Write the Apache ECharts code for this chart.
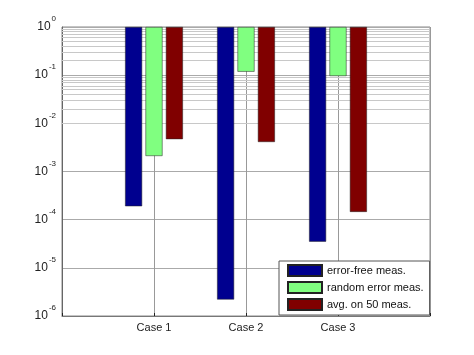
<!DOCTYPE html>
<html>
<head>
<meta charset="utf-8">
<script src="https://cdn.jsdelivr.net/npm/echarts@6/dist/echarts.min.js"></script>
<style>
  html, body { margin: 0; padding: 0; background: #fff; }
  #chart { width: 474px; height: 355px; }
</style>
</head>
<body>
<div id="chart"></div>
<script>
// data
var categories = ['Case 1', 'Case 2', 'Case 3'];
var errorFree = [1.9e-4, 2.2e-6, 3.5e-5];
var randomErr = [2.1e-3, 0.118, 0.096];
var avg50 = [4.7e-3, 4.1e-3, 1.45e-4];

var font = 'Liberation Sans, Arial, sans-serif';

// matlab style x limits: one empty slot each side
var axisCats = [''].concat(categories, ['']);
function pad(arr) { return [null].concat(arr, [null]); }

// minor log grid lines (2..9 x 10^e)
var minorLines = [];
for (var e = -6; e < 0; e++) {
    for (var k = 2; k <= 9; k++) {
        minorLines.push({ yAxis: k * Math.pow(10, e) });
    }
}

var chart = echarts.init(document.getElementById('chart'));
var barStyle = function(c) {
    return { color: c, borderColor: '#222', borderWidth: 0.5 };
};
var option = {
    animation: false,
    grid: {
        left: 62, right: 44, top: 27, bottom: 39,
        show: true, borderColor: '#888', borderWidth: 1
    },
    legend: {
        data: ['error-free meas.', 'random error meas.', 'avg. on 50 meas.'],
        orient: 'vertical',
        left: 279, top: 261,
        padding: [3, 6, 4, 8],
        itemGap: 4,
        itemWidth: 34, itemHeight: 11,
        icon: 'rect',
        backgroundColor: '#fff',
        borderColor: '#555', borderWidth: 1,
        borderRadius: 0,
        textStyle: { fontFamily: font, fontSize: 11, color: '#111' }
    },
    xAxis: {
        type: 'category',
        data: axisCats,
        boundaryGap: false,
        axisLine: { lineStyle: { color: '#777' } },
        axisTick: { inside: true, length: 3, lineStyle: { color: '#222' } },
        axisLabel: { fontFamily: font, fontSize: 11, color: '#222', margin: 6, interval: 0 },
        splitLine: { show: true, lineStyle: { color: '#999', width: 1 } }
    },
    yAxis: {
        type: 'log',
        logBase: 10,
        min: 1e-6, max: 1,
        splitNumber: 6,
        axisLine: { show: true, lineStyle: { color: '#666' } },
        axisTick: { inside: true, length: 3, lineStyle: { color: '#222' } },
        splitLine: { show: true, lineStyle: { color: '#aaa' } },
        axisLabel: {
            margin: 6,
            formatter: function(v) {
                var ex = Math.round(Math.log10(v));
                return '{b|10}{s|' + ex + '}';
            },
            rich: {
                b: { fontFamily: font, fontSize: 12, color: '#222', lineHeight: 12 },
                s: { fontFamily: font, fontSize: 8, color: '#222', lineHeight: 8, padding: [0, 0, 16, 1] }
            }
        }
    },
    series: [
        {
            type: 'line', data: pad([null, null, null]), z: 1,
            silent: true, showSymbol: false,
            markLine: {
                z: 1,
                silent: true, symbol: 'none', label: { show: false },
                lineStyle: { color: '#c8c8c8', type: 'solid', width: 1 },
                data: minorLines
            }
        },
        { name: 'error-free meas.', type: 'bar', z: 3, barWidth: 17, barGap: '20%',
          itemStyle: barStyle('#00008f'), data: pad(errorFree) },
        { name: 'random error meas.', type: 'bar', z: 3, barWidth: 17, barGap: '20%',
          itemStyle: barStyle('#80ff80'), data: pad(randomErr) },
        { name: 'avg. on 50 meas.', type: 'bar', z: 3, barWidth: 17, barGap: '20%',
          itemStyle: barStyle('#800000'), data: pad(avg50) }
    ]
};
chart.setOption(option);
</script>
</body>
</html>
